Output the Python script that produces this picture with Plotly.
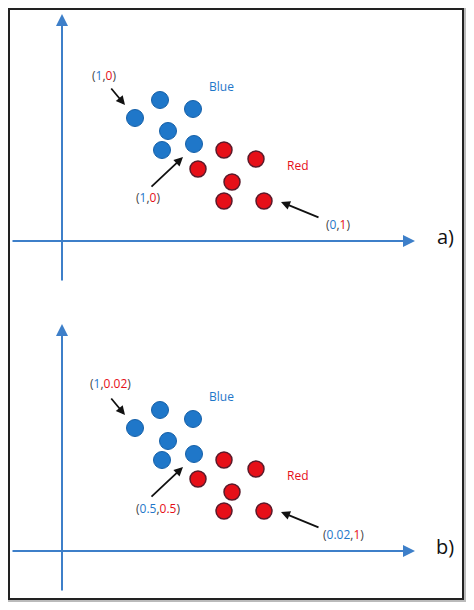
import plotly.graph_objects as go

BLUE = '#1f77c9'
RED = '#e60f18'
AXIS = '#3d7fc9'

# page-pixel coordinates of panel a); panel b) is the same picture shifted down
panel_shift = [0, 310]
panel_tags = ['a)', 'b)']

blue_x = [135, 160, 193, 168, 162, 194]
blue_y = [118, 100, 109, 131, 150, 144]
red_x = [198, 224, 256, 232, 224, 264]
red_y = [169, 150, 159, 182, 201, 201]

# label texts: (blue part, red part) for the three arrows
labels_a = [('1', '0'), ('1', '0'), ('0', '1')]
labels_b = [('1', '0.02'), ('0.5', '0.5'), ('0.02', '1')]

fig = go.Figure()
ann = []
shapes = [dict(type='rect', x0=6, y0=6, x1=465, y1=601, line=dict(color='#bbbbbb', width=4), layer='below'),
          dict(type='rect', x0=9, y0=9, x1=463, y1=599, line=dict(color='#222222', width=2))]


def lab(b, r):
    return (f'<span style="color:#444">(</span><span style="color:{BLUE}">{b}</span>'
            f'<span style="color:#444">,</span><span style="color:{RED}">{r}</span>'
            f'<span style="color:#444">)</span>')


for dy, tag, labels in zip(panel_shift, panel_tags, [labels_a, labels_b]):
    fig.add_trace(go.Scatter(x=blue_x, y=[v + dy for v in blue_y], mode='markers',
                             marker=dict(size=17, color=BLUE, line=dict(color='#1560a8', width=1)),
                             showlegend=False, hoverinfo='skip'))
    fig.add_trace(go.Scatter(x=red_x, y=[v + dy for v in red_y], mode='markers',
                             marker=dict(size=16, color=RED, line=dict(color='#5a1a2a', width=1.5)),
                             showlegend=False, hoverinfo='skip'))
    # axes with arrowheads
    ann.append(dict(x=62, y=14 + dy, ax=62, ay=282 + dy, xref='x', yref='y', axref='x', ayref='y',
                    showarrow=True, arrowhead=2, arrowsize=1.2, arrowwidth=2, arrowcolor=AXIS, text=''))
    ann.append(dict(x=415, y=241 + dy, ax=11, ay=241 + dy, xref='x', yref='y', axref='x', ayref='y',
                    showarrow=True, arrowhead=2, arrowsize=1.2, arrowwidth=2, arrowcolor=AXIS, text=''))
    # pointer arrows
    for (hx, hy, tx, ty) in [(125, 105, 110, 87), (183, 157, 150, 188), (281, 202, 320, 218)]:
        ann.append(dict(x=hx, y=hy + dy, ax=tx, ay=ty + dy, xref='x', yref='y', axref='x', ayref='y',
                        showarrow=True, arrowhead=2, arrowsize=1, arrowwidth=1.8, arrowcolor='#111', text=''))
    tx_pos = [(104, 75), (148, 197), (338, 224)] if dy == 0 else [(110, 73), (158, 198), (343, 224)]
    for (b, r), (x, y) in zip(labels, tx_pos):
        ann.append(dict(x=x, y=y + dy, text=lab(b, r), showarrow=False, font=dict(size=12)))
    ann.append(dict(x=221, y=86 + dy, text='Blue', showarrow=False, font=dict(size=12, color=BLUE)))
    ann.append(dict(x=298, y=165 + dy, text='Red', showarrow=False, font=dict(size=12, color=RED)))
    ann.append(dict(x=445, y=236 + dy, text=tag, showarrow=False, font=dict(size=20, color='#111')))

# the page body has an 8px margin, so the figure is 16px smaller and the ranges are offset
fig.update_layout(
    width=458, height=594, margin=dict(l=0, r=0, t=0, b=0),
    paper_bgcolor='white', plot_bgcolor='white',
    font=dict(family='Open Sans, sans-serif'),
    xaxis=dict(range=[8, 466], visible=False, fixedrange=True),
    yaxis=dict(range=[602, 8], visible=False, fixedrange=True),
    annotations=ann, shapes=shapes,
)
fig.write_html('out.html')
